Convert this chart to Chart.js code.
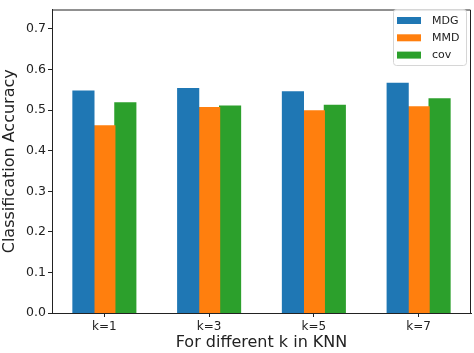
<!DOCTYPE html>
<html>
<head>
<meta charset="utf-8">
<script src="https://cdn.jsdelivr.net/npm/chart.js@4"></script>
<style>
  html, body { margin: 0; padding: 0; background: #fff; }
  #wrap { width: 474px; height: 353px; }
</style>
</head>
<body>
<div id="wrap"><canvas id="c"></canvas></div>
<script>
var categories = ["k=1", "k=3", "k=5", "k=7"];
var mdg = [0.547, 0.553, 0.545, 0.566];
var mmd = [0.461, 0.506, 0.498, 0.508];
var cov = [0.518, 0.510, 0.512, 0.528];
var yTicks = [0.0, 0.1, 0.2, 0.3, 0.4, 0.5, 0.6, 0.7];

var FONT = "'DejaVu Sans', sans-serif";

// axes frame (top + right) and the legend box inside the plot
var framePlugin = {
  id: 'frame',
  afterDraw: function (chart) {
    var a = chart.chartArea, ctx = chart.ctx;
    ctx.save();
    ctx.strokeStyle = '#222';
    ctx.lineWidth = 1;
    ctx.beginPath();
    ctx.moveTo(a.left, a.top + 0.5);
    ctx.lineTo(a.right - 0.5, a.top + 0.5);
    ctx.lineTo(a.right - 0.5, a.bottom);
    ctx.stroke();

    // legend
    var x0 = 393.5, y0 = 9.5, w = 73, h = 56;
    ctx.fillStyle = 'rgba(255,255,255,0.8)';
    ctx.strokeStyle = '#d6d6d6';
    ctx.beginPath();
    if (ctx.roundRect) ctx.roundRect(x0, y0, w, h, 3); else ctx.rect(x0, y0, w, h);
    ctx.fill();
    ctx.stroke();
    ctx.font = '11px ' + FONT;
    ctx.textBaseline = 'middle';
    chart.data.datasets.forEach(function (ds, i) {
      var cy = 20.5 + i * 17.3;
      ctx.fillStyle = ds.backgroundColor;
      ctx.fillRect(397, cy - 3.5, 24, 7);
      ctx.fillStyle = '#222';
      ctx.fillText(ds.label, 432, cy + 0.5);
    });
    ctx.restore();
  }
};

new Chart(document.getElementById('c'), {
  type: 'bar',
  data: {
    labels: categories,
    datasets: [
      { label: 'MDG', data: mdg, backgroundColor: '#1f77b4' },
      { label: 'MMD', data: mmd, backgroundColor: '#ff7f0e' },
      { label: 'cov', data: cov, backgroundColor: '#2ca02c' }
    ]
  },
  options: {
    responsive: true,
    maintainAspectRatio: false,
    animation: false,
    devicePixelRatio: 1,
    layout: { padding: { top: 3, right: 3, left: 0, bottom: 0 } },
    datasets: { bar: { categoryPercentage: 0.6, barPercentage: 1.0, borderWidth: 0, inflateAmount: 0.6 } },
    plugins: {
      legend: { display: false },
      tooltip: { enabled: false }
    },
    scales: {
      x: {
        offset: true,
        grid: { drawOnChartArea: false, drawTicks: true, tickLength: 4, color: '#222', offset: false },
        border: { display: true, color: '#222', width: 1 },
        ticks: { color: '#222', font: { family: FONT, size: 12 }, padding: 3 },
        title: { display: true, text: 'For different k in KNN', color: '#222', font: { family: FONT, size: 16 }, padding: { top: 0, bottom: 1 } },
        afterFit: function (s) { s.height = 40; }
      },
      y: {
        min: 0,
        max: 0.748,
        afterBuildTicks: function (s) { s.ticks = yTicks.map(function (v) { return { value: v }; }); },
        grid: { drawOnChartArea: false, drawTicks: true, tickLength: 4, color: '#222' },
        border: { display: true, color: '#222', width: 1 },
        ticks: { color: '#222', font: { family: FONT, size: 12.5 }, padding: 2,
                 callback: function (v) { return v.toFixed(1); } },
        title: { display: true, text: 'Classification Accuracy', color: '#222', font: { family: FONT, size: 16 }, padding: { top: 0, bottom: 1 } },
        afterFit: function (s) { s.width = 52; }
      }
    }
  },
  plugins: [framePlugin]
});
</script>
</body>
</html>
